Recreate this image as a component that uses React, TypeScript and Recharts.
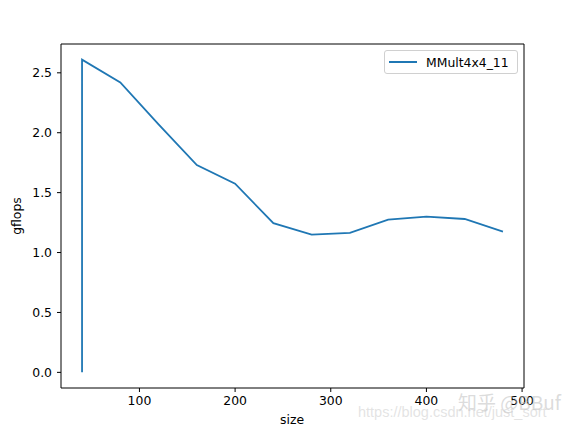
import React from "react";
import { LineChart, Line, XAxis, YAxis, ReferenceLine } from "recharts";

const sizes = [40, 40, 80, 120, 160, 200, 240, 280, 320, 360, 400, 440, 480];
const gflops = [0, 2.61, 2.42, 2.07, 1.73, 1.575, 1.245, 1.15, 1.165, 1.275, 1.3, 1.28, 1.175];
const xTicks = [100, 200, 300, 400, 500];
const yTicks = [0, 0.5, 1.0, 1.5, 2.0, 2.5];
const seriesName = "MMult4x4_11";

const FONT = "DejaVu Sans, sans-serif";
const BLUE = "#1f77b4";
const X_DOMAIN: [number, number] = [18, 502];
const Y_DOMAIN: [number, number] = [-0.1305, 2.7405];

const data = sizes.map((s, i) => ({ size: s, gflops: gflops[i] }));

const tickStyle = { fill: "#000", fontSize: 12.4, fontFamily: FONT };

export default function App() {
  return (
    <div style={{ position: "absolute", left: 0, top: 0, width: 572, height: 431, background: "#fff" }}>
      <LineChart
        width={572}
        height={431}
        data={data}
        margin={{ top: 44, right: 48, left: 0, bottom: 0 }}
        style={{ fontFamily: FONT }}
      >
        <XAxis
          dataKey="size"
          type="number"
          domain={X_DOMAIN}
          ticks={xTicks}
          allowDataOverflow
          height={43}
          tick={tickStyle}
          tickSize={4}
          tickMargin={4}
          tickLine={{ stroke: "#000" }}
          axisLine={{ stroke: "#000" }}
          label={{
            content: () => (
              <text x={292} y={424} textAnchor="middle" fontSize={12.4} fontFamily={FONT} fill="#000">
                size
              </text>
            ),
          }}
        />
        <YAxis
          type="number"
          domain={Y_DOMAIN}
          ticks={yTicks}
          allowDataOverflow
          width={61}
          tick={tickStyle}
          tickSize={4}
          tickMargin={5}
          tickFormatter={(v: number) => v.toFixed(1)}
          tickLine={{ stroke: "#000" }}
          axisLine={{ stroke: "#000" }}
          label={{
            content: () => (
              <text
                x={21}
                y={216}
                textAnchor="middle"
                fontSize={12.4}
                fontFamily={FONT}
                fill="#000"
                transform="rotate(-90, 21, 216)"
              >
                gflops
              </text>
            ),
          }}
        />
        {/* top and right spines */}
        <ReferenceLine y={Y_DOMAIN[1]} stroke="#000" ifOverflow="visible" />
        <ReferenceLine x={X_DOMAIN[1]} stroke="#000" ifOverflow="visible" />
        <Line
          type="linear"
          dataKey="gflops"
          name={seriesName}
          stroke={BLUE}
          strokeWidth={1.8}
          dot={false}
          isAnimationActive={false}
        />
      </LineChart>

      {/* legend */}
      <div
        style={{
          position: "absolute",
          left: 384,
          top: 50,
          width: 134,
          height: 24,
          border: "1px solid #d0d0d0",
          borderRadius: 3,
          background: "rgba(255,255,255,0.8)",
          display: "flex",
          alignItems: "center",
          fontFamily: FONT,
          fontSize: 12.4,
          color: "#000",
          boxSizing: "border-box",
        }}
      >
        <div style={{ width: 28, height: 2, background: BLUE, marginLeft: 4, marginRight: 9 }} />
        <span>{seriesName}</span>
      </div>

      {/* watermarks */}
      <div
        style={{
          position: "absolute",
          left: 458,
          top: 388,
          fontFamily: "Noto Sans CJK SC, sans-serif",
          fontSize: 19,
          color: "rgba(190,190,190,0.55)",
          whiteSpace: "nowrap",
        }}
      >
        知乎 @BBuf
      </div>
      <div
        style={{
          position: "absolute",
          left: 358,
          top: 404,
          fontFamily: "Liberation Sans, sans-serif",
          fontSize: 14.5,
          color: "rgba(200,200,200,0.5)",
          whiteSpace: "nowrap",
        }}
      >
        https://blog.csdn.net/just_sort
      </div>
    </div>
  );
}
